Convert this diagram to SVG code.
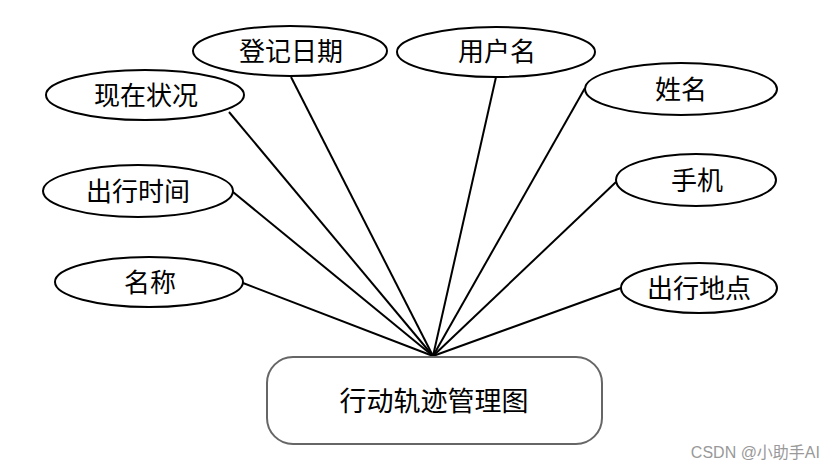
<svg xmlns="http://www.w3.org/2000/svg" width="834" height="470" viewBox="0 0 834 470">
<style>
.e{fill:#fff;stroke:#000;stroke-width:2}
.t{font-family:"Liberation Serif","Noto Sans CJK SC",serif;font-size:26px;fill:#000;text-anchor:middle;dominant-baseline:central}
.c line{stroke:#000;stroke-width:2}
</style>
<rect width="834" height="470" fill="#fff"/>
<g class="c" id="connectors">
<line x1="229" y1="112" x2="433" y2="356"/>
<line x1="291" y1="77" x2="433" y2="356"/>
<line x1="496" y1="77" x2="433" y2="356"/>
<line x1="585" y1="88" x2="433" y2="356"/>
<line x1="233" y1="192" x2="433" y2="356"/>
<line x1="243" y1="283" x2="433" y2="356"/>
<line x1="616" y1="182" x2="433" y2="356"/>
<line x1="621" y1="288" x2="433" y2="356"/>
</g>
<g id="n1"><ellipse class="e" cx="145" cy="95" rx="99" ry="25"/><text class="t" x="146" y="96">现在状况</text></g>
<g id="n2"><ellipse class="e" cx="290" cy="51" rx="97" ry="25"/><text class="t" x="291" y="52">登记日期</text></g>
<g id="n3"><ellipse class="e" cx="496" cy="52" rx="99" ry="25"/><text class="t" x="497" y="52">用户名</text></g>
<g id="n4"><ellipse class="e" cx="681" cy="89" rx="96" ry="26"/><text class="t" x="681" y="90">姓名</text></g>
<g id="n5"><ellipse class="e" cx="138" cy="191" rx="95" ry="26"/><text class="t" x="138" y="192">出行时间</text></g>
<g id="n6"><ellipse class="e" cx="149" cy="282" rx="94" ry="25"/><text class="t" x="150" y="283">名称</text></g>
<g id="n7"><ellipse class="e" cx="696" cy="180" rx="80" ry="26"/><text class="t" x="697" y="181">手机</text></g>
<g id="n8"><ellipse class="e" cx="699" cy="288" rx="78" ry="25"/><text class="t" x="699" y="289">出行地点</text></g>
<g id="center"><rect x="267" y="357" width="335" height="87" rx="26" ry="26" fill="#fff" stroke="#666" stroke-width="2"/><text class="t" x="434" y="402" style="font-size:27px">行动轨迹管理图</text></g>
<text x="820" y="458" style="font-family:'Liberation Sans','Noto Sans CJK SC',sans-serif;font-size:16px;fill:#999;text-anchor:end">CSDN @小助手AI</text>
</svg>
